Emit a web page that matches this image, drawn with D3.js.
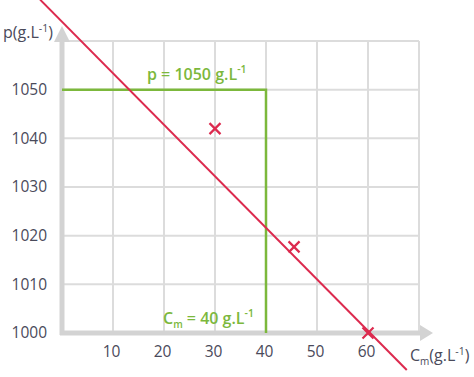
<!DOCTYPE html>
<html><head><meta charset="utf-8">
<script src="https://cdn.jsdelivr.net/npm/d3@7"></script>
<style>body{margin:0;background:#fff}svg{display:block;font-family:"Open Sans",Lato,sans-serif}</style>
</head><body><svg id="c" width="474" height="377"></svg>
<script>
const xTicks = [10,20,30,40,50,60];
const yTicks = [1000,1010,1020,1030,1040,1050];
const gridX = [10,20,30,40,50,60,70];
const gridY = [1010,1020,1030,1040,1050,1060];
const points = [[30,1042],[45.5,1017.7],[60,1000]];
const fitLine = [[-4.3,1068.5],[67.6,992.4]];
const readP = 1050, readC = 40;

const svg = d3.select("#c");
const x = d3.scaleLinear().domain([0,70]).range([62,419]);
const y = d3.scaleLinear().domain([1000,1060]).range([333,41]);
const gridCol = "#dcdcdc", axisCol = "#d3d3d3", red = "#dc2a4e", green = "#7cb83c", txt = "#4a4a5a";
const FONT = '"Open Sans",Lato,sans-serif';

// grid
svg.selectAll(".gx").data(gridX).join("line").attr("x1",d=>x(d)).attr("x2",d=>x(d))
  .attr("y1",y(1000)).attr("y2",y(1060)).attr("stroke",gridCol).attr("stroke-width",2);
svg.selectAll(".gy").data(gridY).join("line").attr("y1",d=>y(d)).attr("y2",d=>y(d))
  .attr("x1",x(0)).attr("x2",x(70)).attr("stroke",gridCol).attr("stroke-width",2);

// axes with arrows
svg.append("line").attr("x1",x(0)-2).attr("x2",x(70)+2).attr("y1",y(1000)).attr("y2",y(1000)).attr("stroke",axisCol).attr("stroke-width",5);
svg.append("path").attr("d",`M${x(70)+1},${y(1000)-8}L${x(70)+14},${y(1000)}L${x(70)+1},${y(1000)+8}Z`).attr("fill",axisCol);
svg.append("line").attr("x1",x(0)).attr("x2",x(0)).attr("y1",y(1000)+2).attr("y2",y(1060)-2).attr("stroke",axisCol).attr("stroke-width",5);
svg.append("path").attr("d",`M${x(0)-8},${y(1060)+1}L${x(0)},${y(1060)-15}L${x(0)+8},${y(1060)+1}Z`).attr("fill",axisCol);

// tick labels
const xa = svg.append("g").attr("transform",`translate(-2,${y(1000)+7})`)
  .call(d3.axisBottom(x).tickValues(xTicks).tickSize(0).tickPadding(6));
xa.select(".domain").remove();
xa.selectAll("text").attr("font-size",15.5).attr("font-weight",500).attr("fill",txt).attr("font-family",FONT);
const ya = svg.append("g").attr("transform",`translate(${x(0)-15},0)`)
  .call(d3.axisLeft(y).tickValues(yTicks).tickSize(0).tickPadding(0).tickFormat(d3.format("d")));
ya.select(".domain").remove();
ya.selectAll("text").attr("font-size",15.5).attr("font-weight",500).attr("fill",txt).attr("font-family",FONT);

// axis titles
const t1 = svg.append("text").attr("x",3).attr("y",38).attr("font-size",16).attr("font-weight",500).attr("fill",txt);
t1.append("tspan").text("p(g.L");
t1.append("tspan").attr("dy",-6).attr("font-size",10.5).text("-1");
t1.append("tspan").attr("dy",6).text(")");
const t2 = svg.append("text").attr("x",410).attr("y",361).attr("font-size",16).attr("font-weight",500).attr("fill",txt);
t2.append("tspan").text("C");
t2.append("tspan").attr("dy",4).attr("font-size",10).text("m");
t2.append("tspan").attr("dy",-4).text("(g.L");
t2.append("tspan").attr("dy",-6).attr("font-size",10.5).text("-1");
t2.append("tspan").attr("dy",6).text(")");

// green reading lines
svg.append("path").attr("d",`M${x(0)},${y(readP)}H${x(readC)}V${y(1000)}`).attr("fill","none").attr("stroke",green).attr("stroke-width",2.5);
const g1 = svg.append("text").attr("x",147).attr("y",80).attr("font-size",16).attr("fill",green).attr("font-weight",600);
g1.append("tspan").text("p = 1050 g.L");
g1.append("tspan").attr("dy",-7).attr("font-size",10.5).text("-1");
const g2 = svg.append("text").attr("x",163).attr("y",324).attr("font-size",16).attr("fill",green).attr("font-weight",600);
g2.append("tspan").text("C");
g2.append("tspan").attr("dy",4).attr("font-size",10).text("m");
g2.append("tspan").attr("dy",-4).text(" = 40 g.L");
g2.append("tspan").attr("dy",-7).attr("font-size",10.5).text("-1");

// fit line
svg.append("line").attr("x1",x(fitLine[0][0])).attr("y1",y(fitLine[0][1]))
  .attr("x2",x(fitLine[1][0])).attr("y2",y(fitLine[1][1])).attr("stroke",red).attr("stroke-width",2);

// crosses
const s = 5.5;
svg.selectAll(".pt").data(points).join("path")
  .attr("d",d=>{const cx=x(d[0]),cy=y(d[1]);return `M${cx-s},${cy-s}L${cx+s},${cy+s}M${cx-s},${cy+s}L${cx+s},${cy-s}`;})
  .attr("stroke",red).attr("stroke-width",2.2).attr("fill","none");
</script></body></html>
